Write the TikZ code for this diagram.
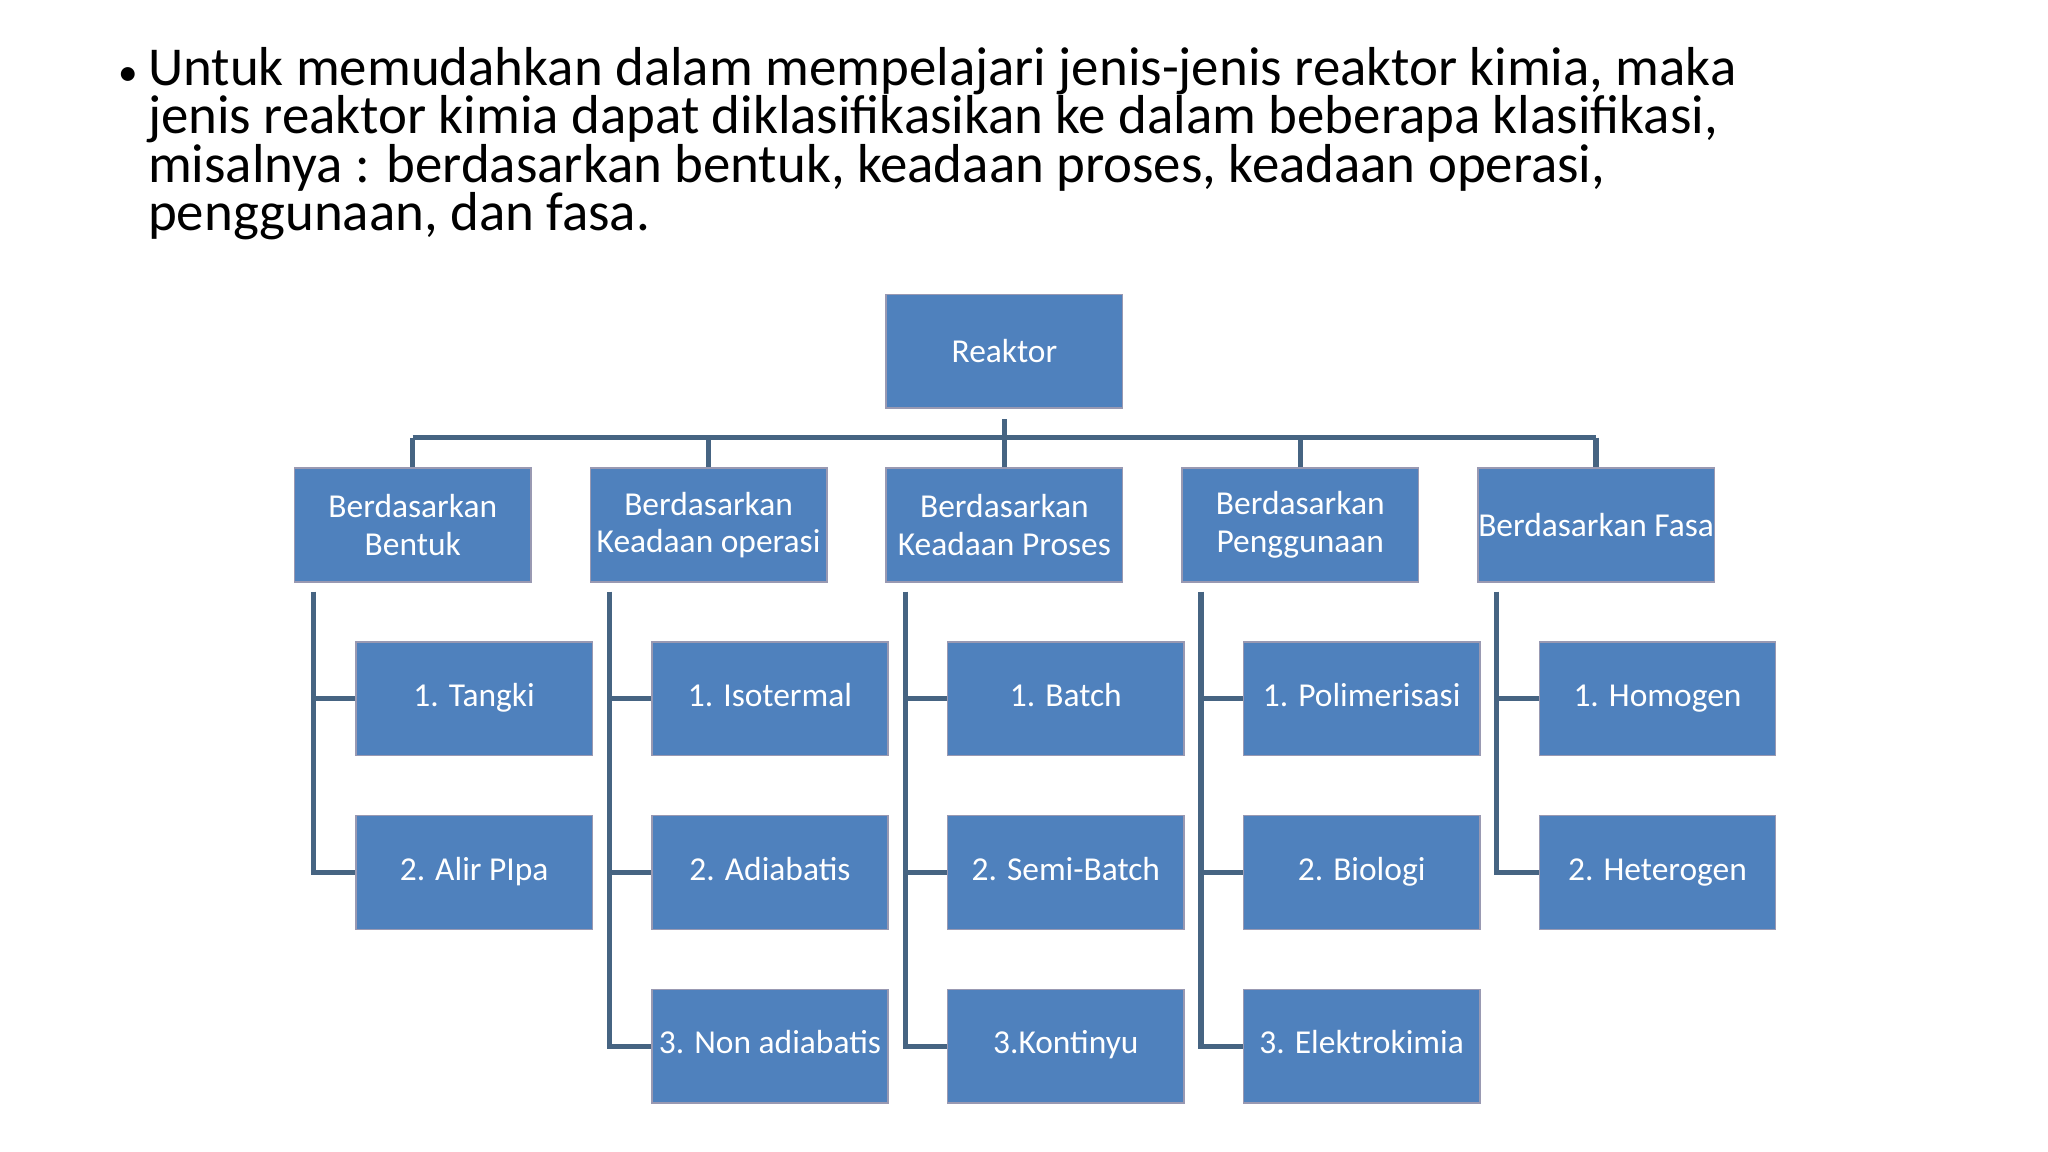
\documentclass[tikz,border=0pt]{standalone}
\usepackage{fontspec}
\setmainfont{Carlito}
\begin{document}
\begin{tikzpicture}[x=0.5pt,y=-0.5pt,
 box/.style={draw=white!75!blue!40!gray,line width=0.6pt,fill={rgb,255:red,79;green,129;blue,189},text=white,font=\fontsize{12.8}{14.5}\selectfont,align=center,inner sep=0pt,minimum width=90.5pt,minimum height=43.5pt},
 conn/.style={draw={rgb,255:red,70;green,100;blue,130},line width=2pt}]
\useasboundingbox (0,0) rectangle (1568,882);
\node[anchor=north west,align=left,font=\fontsize{21}{18.5}\selectfont,inner sep=0pt] (txt) at (113,36)
 {\llap{{\fontsize{15}{15}\selectfont\textbullet}\hspace{4pt}}Untuk memudahkan dalam mempelajari jenis-jenis reaktor kimia, maka\\jenis reaktor kimia dapat diklasifikasikan ke dalam beberapa klasifikasi,\\misalnya : berdasarkan bentuk, keadaan proses, keadaan operasi,\\penggunaan, dan fasa.};
\node[box] (r) at (769,269) {Reaktor};
\coordinate (bus) at (769,335);
\draw[conn] (r.south) ++(0,8) -- (bus);
\draw[conn] (316,335) -- (1222,335);
\foreach \i/\t in {1/{Berdasarkan\\Bentuk},2/{Berdasarkan\\Keadaan operasi},3/{Berdasarkan\\Keadaan Proses},4/{Berdasarkan\\Penggunaan},5/{Berdasarkan Fasa}}{
 \pgfmathsetmacro\cx{316+226.5*(\i-1)}
 \node[box] (p\i) at (\cx,402) {\t};
 \draw[conn] (\cx,335) -- (p\i.north) ++(0,-8);
}
\foreach \i/\a/\b/\c in {1/{1. Tangki}/{2. Alir PIpa}/{},2/{1. Isotermal}/{2. Adiabatis}/{3. Non adiabatis},3/{1. Batch}/{2. Semi-Batch}/{3.Kontinyu},4/{1. Polimerisasi}/{2. Biologi}/{3. Elektrokimia},5/{1. Homogen}/{2. Heterogen}/{}}{
 \pgfmathsetmacro\cx{363+226.5*(\i-1)}
 \pgfmathsetmacro\lx{240+226.5*(\i-1)}
 \node[box] (a\i) at (\cx,535) {\strut\a};
 \node[box] (b\i) at (\cx,668) {\strut\b};
 \draw[conn] (\lx,453) -- (\lx,535) -- (a\i.west);
 \ifx\c\empty
  \draw[conn] (\lx,535) -- (\lx,668) -- (b\i.west);
 \else
  \node[box] (c\i) at (\cx,801) {\strut\c};
  \draw[conn] (\lx,535) -- (\lx,801) -- (c\i.west);
  \draw[conn] (\lx,668) -- (b\i.west);
 \fi
}
\end{tikzpicture}
\end{document}
